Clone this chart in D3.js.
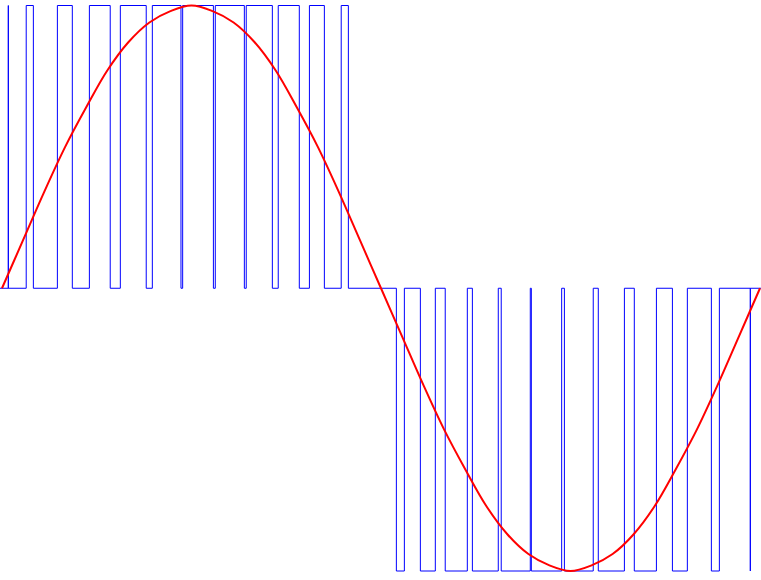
<!DOCTYPE html>
<html>
<head>
<meta charset="utf-8">
<script src="https://cdn.jsdelivr.net/npm/d3@7"></script>
<style>
  html, body { margin: 0; padding: 0; background: #fff; }
  svg { display: block; }
</style>
</head>
<body>
<svg width="761" height="580"></svg>
<script>
// pwm pulses, phase in degrees: [rise, fall]
let posPulses = [
    [3.0, 3.0], [11.5, 14.9], [26.3, 33.4], [41.5, 51.4], [56.2, 68.5], [71.4, 85.0],
    [85.8, 100.4], [101.3, 115.1], [116.0, 128.4], [131.2, 141.2], [146.0, 153.1], [161.1, 164.5]
];
let negPulses = [
    [187.3, 191.1], [198.7, 205.8], [210.5, 221.0], [223.4, 235.7], [237.1, 250.9], [251.4, 265.8],
    [267.1, 280.8], [283.2, 295.6], [300.3, 310.8], [318.4, 325.5], [336.9, 340.7], [355.4, 355.4]
];

// reference sine, every 10 degrees
let refPhase = d3.range(0, 361, 10);
let refValue = [0, 0.17, 0.34, 0.50, 0.64, 0.77, 0.87, 0.94, 0.98, 1.00,
    0.98, 0.94, 0.87, 0.77, 0.64, 0.50, 0.34, 0.17, 0,
    -0.17, -0.34, -0.50, -0.64, -0.77, -0.87, -0.94, -0.98, -1.00,
    -0.98, -0.94, -0.87, -0.77, -0.64, -0.50, -0.34, -0.17, 0];

let svg = d3.select("svg"),
    width = +svg.attr("width"),
    height = +svg.attr("height");

let x = d3.scaleLinear().domain([0, 360]).range([2, 760]);
let y = d3.scaleLinear().domain([-1, 1]).range([571, 5.5]);

// build the step trace
let steps = [[x.invert(0), 0]];
posPulses.forEach(p => {
    steps.push([p[0], 0], [p[0], 1], [p[1], 1], [p[1], 0]);
});
negPulses.forEach(p => {
    steps.push([p[0], 0], [p[0], -1], [p[1], -1], [p[1], 0]);
});
steps.push([x.invert(width), 0]);

let stepLine = d3.line()
    .x(d => x(d[0]))
    .y(d => y(d[1]));

svg.append("path")
    .datum(steps)
    .attr("fill", "none")
    .attr("stroke", "#0000ff")
    .attr("stroke-width", 1)
    .attr("d", stepLine);

let sineLine = d3.line()
    .curve(d3.curveCatmullRom)
    .x((d, i) => x(refPhase[i]))
    .y(d => y(d));

svg.append("path")
    .datum(refValue)
    .attr("fill", "none")
    .attr("stroke", "#ff0000")
    .attr("stroke-width", 2)
    .attr("d", sineLine);
</script>
</body>
</html>
